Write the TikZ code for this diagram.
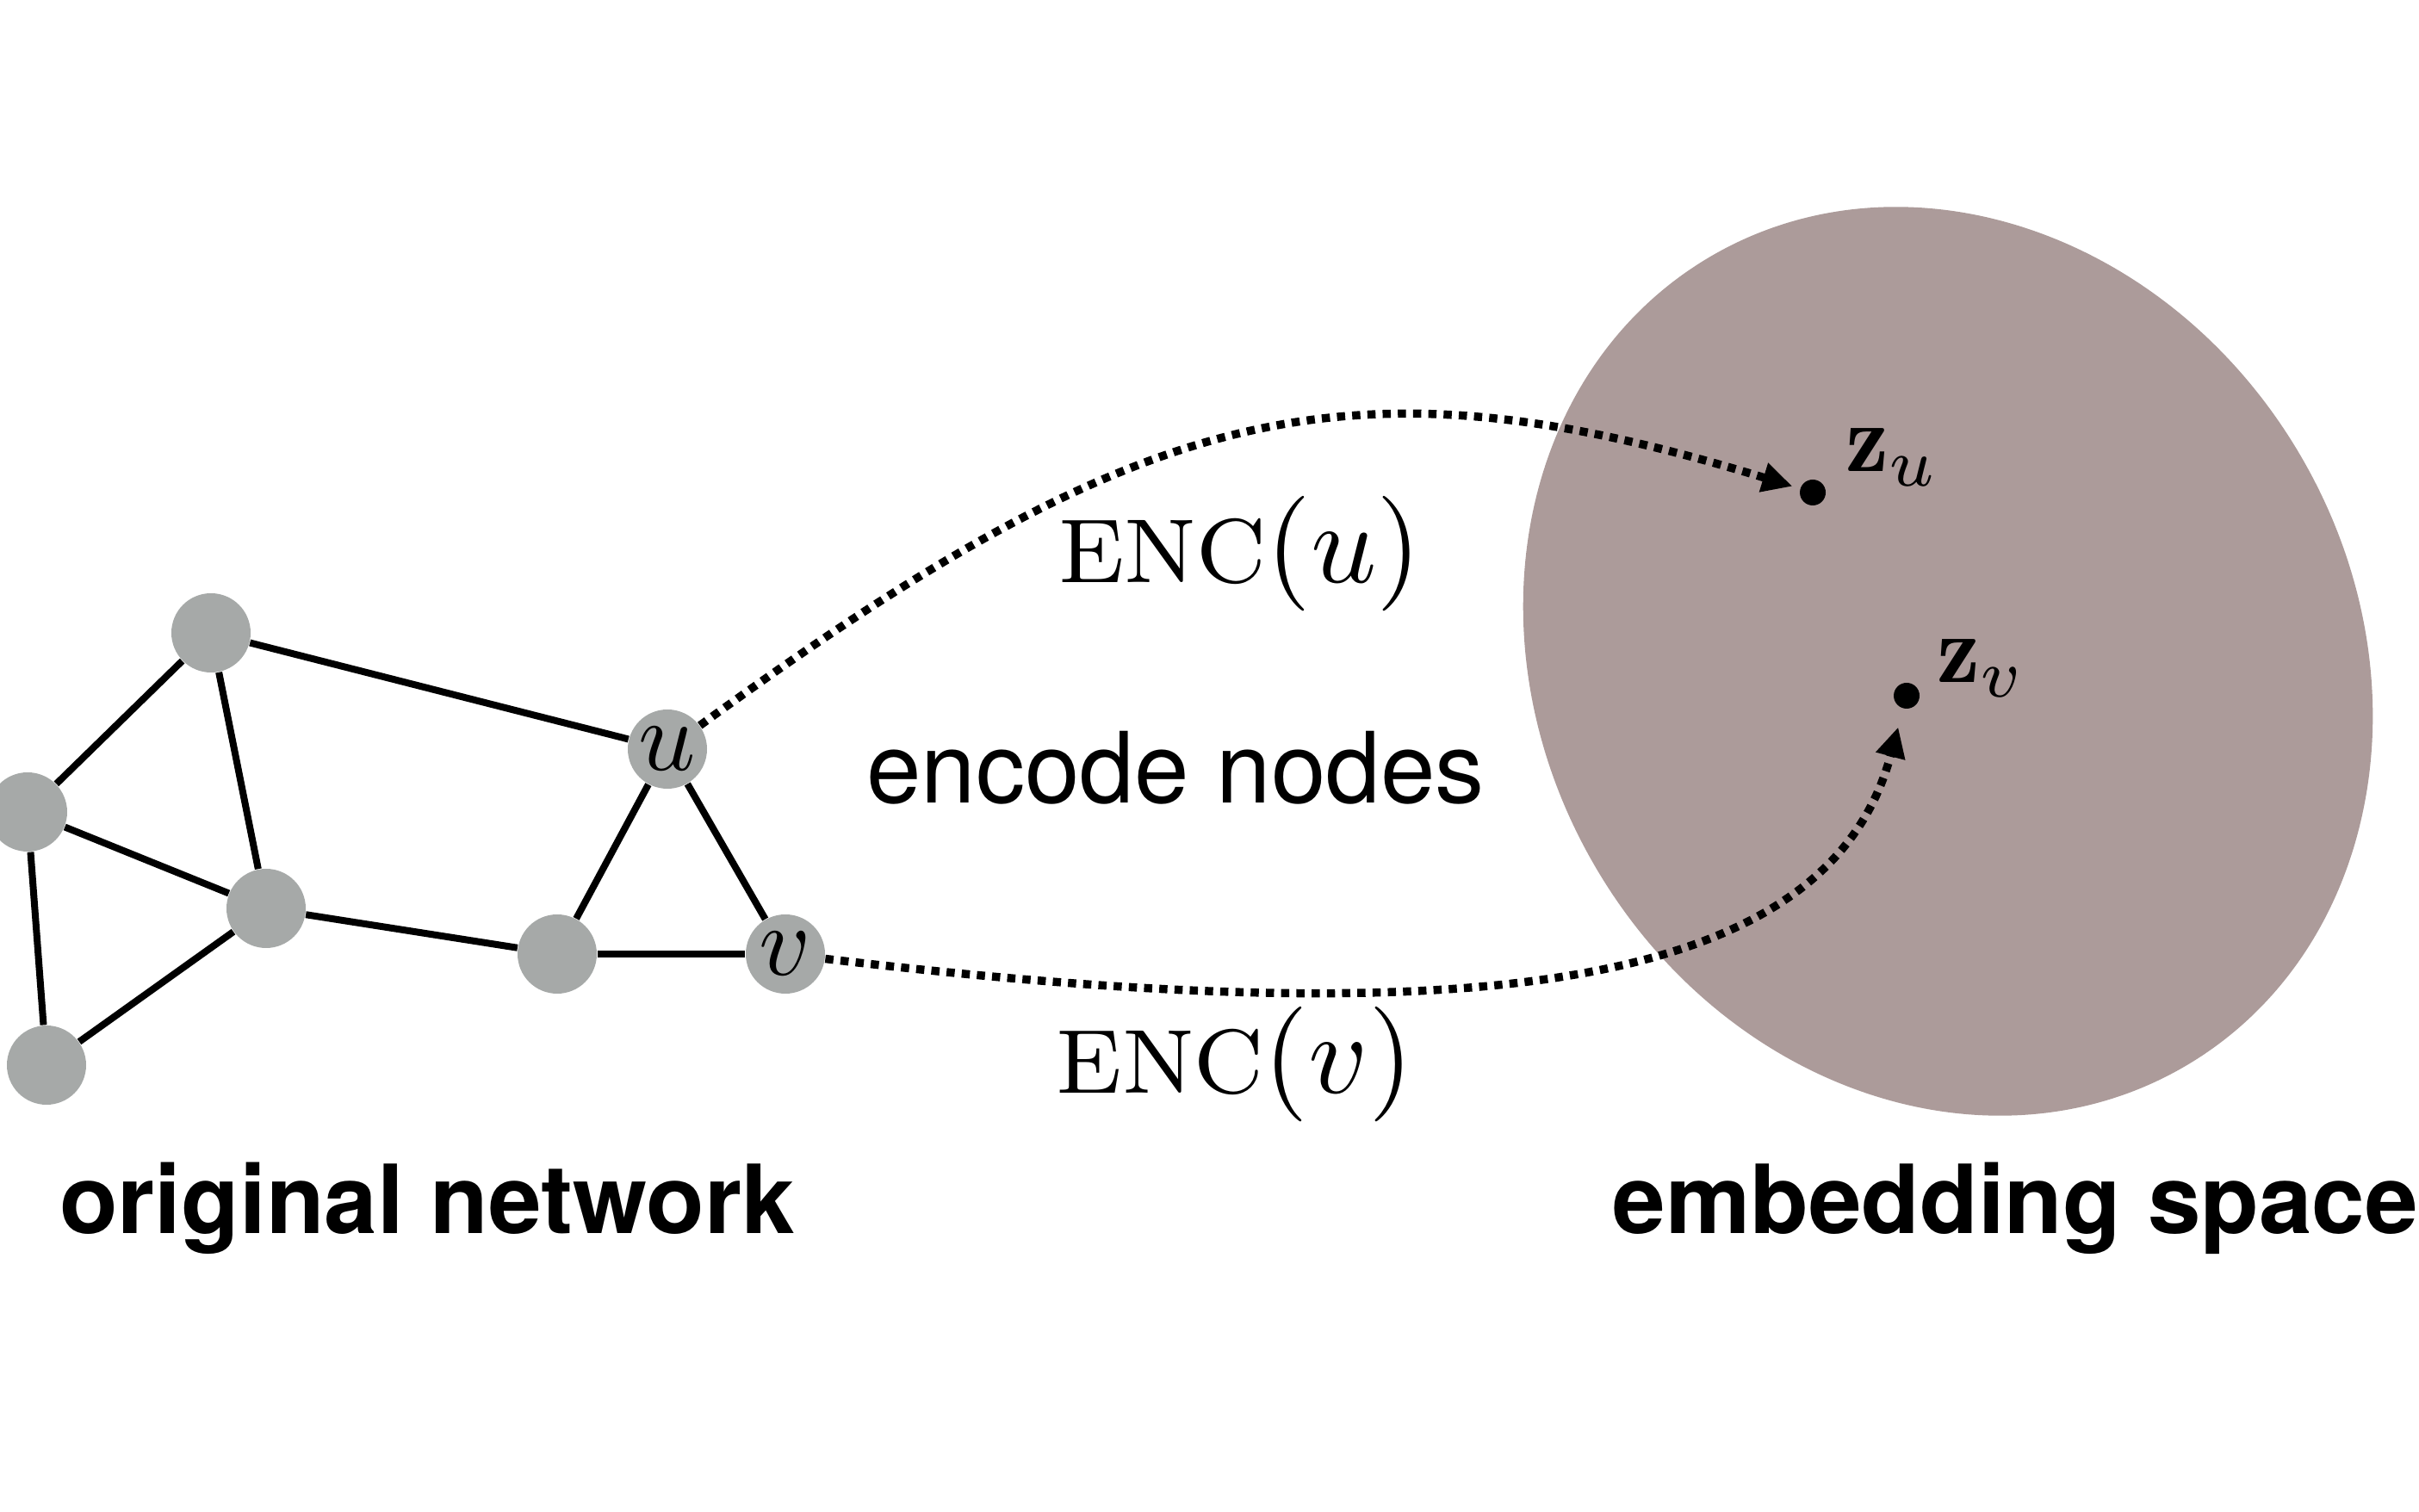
\documentclass[tikz,border=0pt]{standalone}
\usepackage{amsmath}
\usepackage{fontspec}
\newfontfamily\heros{TeX Gyre Heros}
\usetikzlibrary{arrows.meta, positioning}
\definecolor{nodegray}{RGB}{166,169,168}
\definecolor{spacemauve}{RGB}{172,155,154}
\tikzset{%
	graph node/.style={
		circle,
		fill=nodegray,
		minimum size=0.92cm,
		inner sep=0pt
	},
	graph edge/.style={line width=0.08cm},
	embed point/.style={
		circle,
		fill=black,
		minimum size=0.3cm,
		inner sep=0pt
	},
	encode arrow/.style={
		line width=0.095cm,
		dash pattern=on 0.095cm off 0.082cm,
		-{Triangle[length=0.35cm, width=0.33cm]}
	},
	point label/.style={inner sep=0pt, anchor=base west, scale=3.2},
	enc label/.style={inner sep=0pt, anchor=base, scale=3.8},
	caption label/.style={inner sep=0pt, font=\heros\bfseries\fontsize{31.5}{38}\selectfont},
}

\begin{document}
\begin{tikzpicture}
			\useasboundingbox (0,0) rectangle (28.09,17.55);

			% Draw the embedding space
			\fill[spacemauve, rotate around={-59.5:(22.62,9.87)}] (22.62,9.87) ellipse (5.45 and 4.74);

			% Draw the original network
			\node[graph node] (a) at (2.45,10.20) {};
			\node[graph node] (b) at (0.32,8.12) {};
			\node[graph node] (c) at (3.09,7.00) {};
			\node[graph node] (d) at (0.54,5.18) {};
			\node[graph node] (e) at (6.47,6.47) {};
			\node[graph node] (u) at (7.75,8.85) {};
			\node[graph node] (v) at (9.12,6.47) {};
			\node[scale=3.3, inner sep=0pt] (ulabel) at (u) {$u$};
			\node[scale=3.3, inner sep=0pt] (vlabel) at (v) {$v$};
			\foreach \from/\to in {a/u, a/b, a/c, b/c, b/d, c/d, c/e, e/u, e/v, u/v}
				\draw[graph edge] (\from) -- (\to);

			% Draw the embedded points
			\node[embed point] (zu) at (21.05,11.83) {};
			\node[embed point] (zv) at (22.14,9.47) {};
			\node[point label] (zulabel) at ([shift={(0.36,0.24)}]zu.center) {$\mathbf{z}_u$};
			\node[point label] (zvlabel) at ([shift={(0.33,0.15)}]zv.center) {$\mathbf{z}_v$};

			% Draw the arrows
			\draw[encode arrow, shorten >=0.09cm] (u) .. controls +(36:6.8) and +(163:5.7) .. (zu);
			\draw[encode arrow, shorten >=0.22cm] (v) .. controls +(-6.8:8.5) and +(255:3.4) .. (zv);

			% Draw the labels
			\node[enc label] (encu) at (14.40,10.78) {$\mbox{\fontsize{7.9}{9}\selectfont ENC}(u)$};
			\node[enc label] (encv) at (14.34,4.85) {$\mbox{\fontsize{7.9}{9}\selectfont ENC}(v)$};
			\node[inner sep=0pt, anchor=base, font=\heros\fontsize{32.5}{39}\selectfont] (encode) at (13.65,8.22) {encode nodes};
			\node[caption label, anchor=base] (orig) at (4.96,3.22) {original network};
			\node[caption label, anchor=base west] (space) at (18.72,3.22) {embedding space};

		\end{tikzpicture}
\end{document}
